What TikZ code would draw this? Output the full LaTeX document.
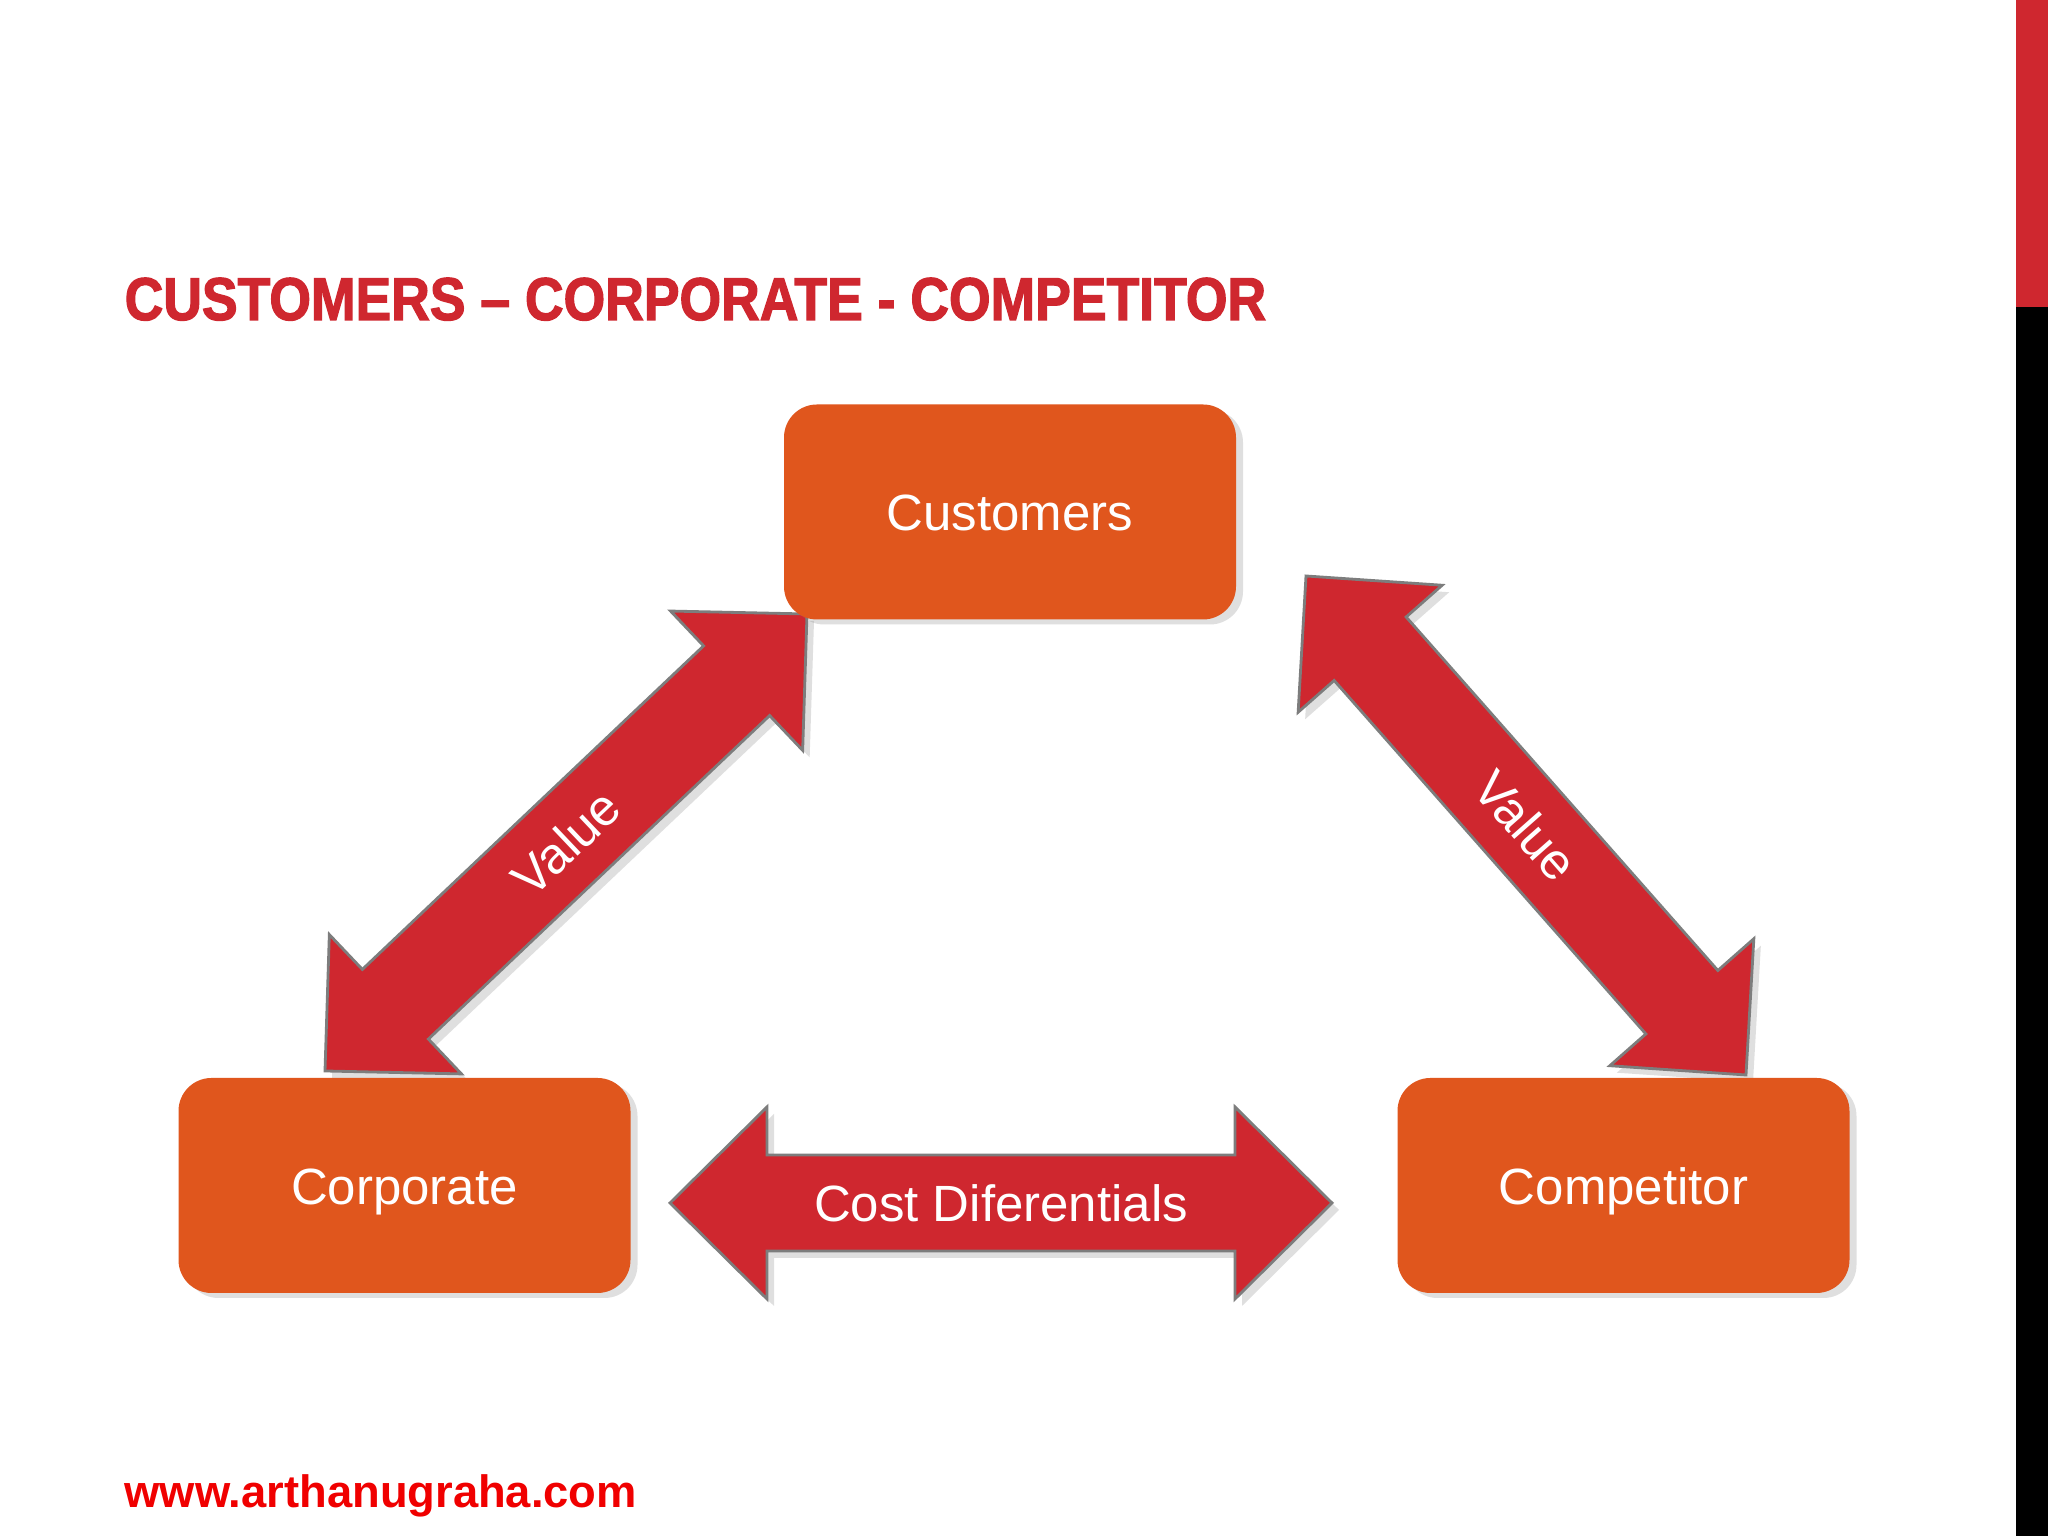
\documentclass[tikz,border=0pt]{standalone}
\usepackage{fontspec}
\setmainfont{Liberation Sans}
\newfontfamily\titrefont{Liberation Sans}[FakeStretch=0.885, BoldFeatures={FakeBold=2}]
\usetikzlibrary{calc,shadows}

\definecolor{orangeboite}{RGB}{224,86,29}
\definecolor{rougefleche}{RGB}{207,39,47}
\definecolor{rougesite}{RGB}{240,0,0}
\definecolor{grisbord}{RGB}{125,125,125}

\tikzset{
  boite/.style={rounded corners=0.33cm, fill=orangeboite, minimum width=4.52cm,
    minimum height=2.15cm, text=white, font=\fontsize{14.5}{17}\selectfont,
    text height=10.8pt, text depth=0pt,
    drop shadow={opacity=0.25, shadow xshift=0.07cm, shadow yshift=-0.05cm}},
  fleche/.style={fill=rougefleche, draw=grisbord, line width=0.8pt, line join=miter,
    drop shadow={opacity=0.25, shadow xshift=0.07cm, shadow yshift=-0.07cm}},
  etiquette/.style={text=white, font=\fontsize{14.5}{17}\selectfont}
}

% grosse fleche double entre deux points
\newcommand{\flechedouble}[3]{%
  \coordinate (#1h) at ($(#1)!0.97cm!(#2)$);
  \coordinate (#2h) at ($(#2)!0.97cm!(#1)$);
  \draw[fleche] (#1) -- ($(#1h)!0.96cm!90:(#2)$) -- ($(#1h)!0.48cm!90:(#2)$)
    -- ($(#2h)!0.48cm!-90:(#1)$) -- ($(#2h)!0.96cm!-90:(#1)$) -- (#2)
    -- ($(#2h)!0.96cm!90:(#1)$) -- ($(#2h)!0.48cm!90:(#1)$)
    -- ($(#1h)!0.48cm!-90:(#2)$) -- ($(#1h)!0.96cm!-90:(#2)$) -- cycle;
  \path let \p1=($(#2)-(#1)$), \n1={atan2(\y1,\x1)} in
    node[etiquette, rotate=\n1] (lab-#1) at ($(#1)!0.5!(#2)$) {#3};
}

\begin{document}
\begin{tikzpicture}

\useasboundingbox (0,0) rectangle (20.48,15.36);
\fill[white] (0,0) rectangle (20.48,15.36);

% Bande droite
\fill[rougefleche] (20.16,12.29) rectangle (20.48,15.36);
\fill[black] (20.16,0) rectangle (20.48,12.29);

% Titre
\node[anchor=base west, inner sep=0pt, text=rougefleche,
  font=\titrefont\bfseries\fontsize{17.2}{20}\selectfont] (titre) at (1.24,12.16)
  {CUSTOMERS – CORPORATE - COMPETITOR};

% Pointes des fleches
\coordinate (va) at (3.25,4.65);
\coordinate (vb) at (8.07,9.22);
\coordinate (wa) at (13.06,9.60);
\coordinate (wb) at (17.46,4.61);
\coordinate (ca) at (6.70,3.33);
\coordinate (cb) at (13.32,3.33);

\flechedouble{va}{vb}{Value}
\flechedouble{wa}{wb}{Value}
\flechedouble{ca}{cb}{Cost Diferentials}

% Boites
\node[boite] (customers) at (10.10,10.24) {Customers};
\node[boite] (corporate) at (4.045,3.505) {Corporate};
\node[boite] (competitor) at (16.235,3.505) {Competitor};

% Site
\node[anchor=base west, inner sep=0pt, text=rougesite,
  font=\bfseries\fontsize{12.9}{15}\selectfont] (site) at (1.24,0.28)
  {www.arthanugraha.com};

\end{tikzpicture}
\end{document}
